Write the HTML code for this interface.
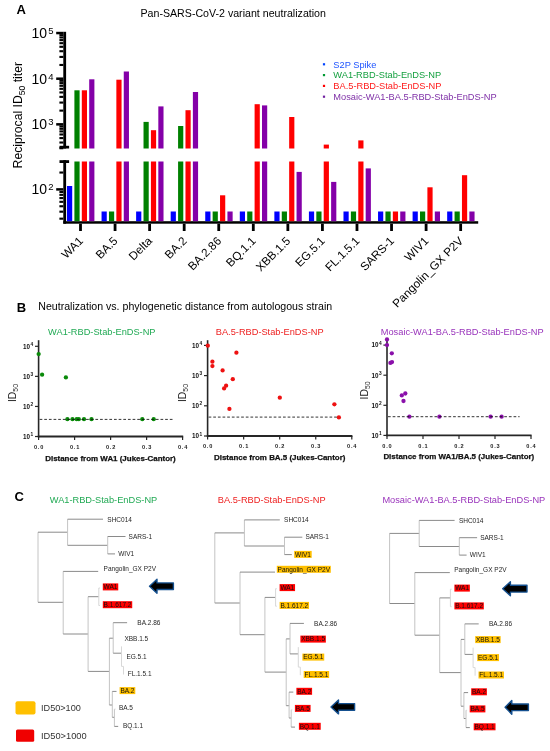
<!DOCTYPE html>
<html><head><meta charset="utf-8"><title>Figure</title>
<style>
html,body{margin:0;padding:0;background:#fff;}
body{width:550px;height:751px;overflow:hidden;}
svg{display:block;font-family:"Liberation Sans", sans-serif;will-change:transform;}
</style></head>
<body>
<svg width="550" height="751" viewBox="0 0 550 751">
<rect x="0" y="0" width="550" height="751" fill="#fff"/>
<text x="16.50" y="14.10" font-size="13" fill="#000" font-weight="bold" text-anchor="start" >A</text>
<text x="140.50" y="17.10" font-size="10.64" fill="#000" font-weight="normal" text-anchor="start" >Pan-SARS-CoV-2 variant neutralization</text>
<rect x="63.30" y="31.80" width="2.80" height="116.70" fill="#000" />
<rect x="63.30" y="160.20" width="2.80" height="63.50" fill="#000" />
<rect x="59.50" y="145.80" width="9.60" height="2.70" fill="#000" />
<rect x="59.50" y="160.20" width="9.60" height="2.80" fill="#000" />
<rect x="56.20" y="31.80" width="7.10" height="2.50" fill="#000" />
<rect x="56.20" y="77.45" width="7.10" height="2.50" fill="#000" />
<rect x="56.20" y="123.10" width="7.10" height="2.50" fill="#000" />
<rect x="56.20" y="188.15" width="7.10" height="2.50" fill="#000" />
<rect x="59.40" y="141.47" width="3.90" height="2.10" fill="#000" />
<rect x="59.40" y="137.04" width="3.90" height="2.10" fill="#000" />
<rect x="59.40" y="133.43" width="3.90" height="2.10" fill="#000" />
<rect x="59.40" y="130.37" width="3.90" height="2.10" fill="#000" />
<rect x="59.40" y="127.72" width="3.90" height="2.10" fill="#000" />
<rect x="59.40" y="125.39" width="3.90" height="2.10" fill="#000" />
<rect x="59.40" y="109.56" width="3.90" height="2.10" fill="#000" />
<rect x="59.40" y="101.52" width="3.90" height="2.10" fill="#000" />
<rect x="59.40" y="95.82" width="3.90" height="2.10" fill="#000" />
<rect x="59.40" y="91.39" width="3.90" height="2.10" fill="#000" />
<rect x="59.40" y="87.78" width="3.90" height="2.10" fill="#000" />
<rect x="59.40" y="84.72" width="3.90" height="2.10" fill="#000" />
<rect x="59.40" y="82.07" width="3.90" height="2.10" fill="#000" />
<rect x="59.40" y="79.74" width="3.90" height="2.10" fill="#000" />
<rect x="59.40" y="63.91" width="3.90" height="2.10" fill="#000" />
<rect x="59.40" y="55.87" width="3.90" height="2.10" fill="#000" />
<rect x="59.40" y="50.17" width="3.90" height="2.10" fill="#000" />
<rect x="59.40" y="45.74" width="3.90" height="2.10" fill="#000" />
<rect x="59.40" y="42.13" width="3.90" height="2.10" fill="#000" />
<rect x="59.40" y="39.07" width="3.90" height="2.10" fill="#000" />
<rect x="59.40" y="36.42" width="3.90" height="2.10" fill="#000" />
<rect x="59.40" y="34.09" width="3.90" height="2.10" fill="#000" />
<rect x="59.40" y="147.17" width="3.90" height="2.10" fill="#000" />
<rect x="59.40" y="217.63" width="3.90" height="2.10" fill="#000" />
<rect x="59.40" y="210.63" width="3.90" height="2.10" fill="#000" />
<rect x="59.40" y="205.21" width="3.90" height="2.10" fill="#000" />
<rect x="59.40" y="200.77" width="3.90" height="2.10" fill="#000" />
<rect x="59.40" y="197.02" width="3.90" height="2.10" fill="#000" />
<rect x="59.40" y="193.78" width="3.90" height="2.10" fill="#000" />
<rect x="59.40" y="190.91" width="3.90" height="2.10" fill="#000" />
<rect x="59.40" y="171.49" width="3.90" height="2.10" fill="#000" />
<text x="31.40" y="38.05" font-size="14" fill="#000" font-weight="normal" text-anchor="start" >10</text>
<text x="48.30" y="33.95" font-size="9.5" fill="#000" font-weight="normal" text-anchor="start" >5</text>
<text x="31.40" y="83.70" font-size="14" fill="#000" font-weight="normal" text-anchor="start" >10</text>
<text x="48.30" y="79.60" font-size="9.5" fill="#000" font-weight="normal" text-anchor="start" >4</text>
<text x="31.40" y="129.35" font-size="14" fill="#000" font-weight="normal" text-anchor="start" >10</text>
<text x="48.30" y="125.25" font-size="9.5" fill="#000" font-weight="normal" text-anchor="start" >3</text>
<text x="31.40" y="194.40" font-size="14" fill="#000" font-weight="normal" text-anchor="start" >10</text>
<text x="48.30" y="190.30" font-size="9.5" fill="#000" font-weight="normal" text-anchor="start" >2</text>
<text transform="translate(22.4,168.4) rotate(-90)" font-size="12.2" fill="#000">Reciprocal ID<tspan font-size="8.6" dy="2.4">50</tspan><tspan dy="-2.4"> titer</tspan></text>
<rect x="63.30" y="221.20" width="414.90" height="2.50" fill="#000" />
<rect x="67.00" y="186.00" width="5.20" height="35.20" fill="#0000ff" />
<rect x="74.40" y="161.50" width="5.20" height="59.70" fill="#008000" />
<rect x="74.40" y="90.30" width="5.20" height="58.20" fill="#008000" />
<rect x="81.80" y="161.50" width="5.20" height="59.70" fill="#ff0000" />
<rect x="81.80" y="90.30" width="5.20" height="58.20" fill="#ff0000" />
<rect x="89.20" y="161.50" width="5.20" height="59.70" fill="#8400a8" />
<rect x="89.20" y="79.30" width="5.20" height="69.20" fill="#8400a8" />
<rect x="79.10" y="223.70" width="2.80" height="7.30" fill="#000" />
<text transform="translate(83.80,241.70) rotate(-45)" font-size="11.7" text-anchor="end" fill="#000">WA1</text>
<rect x="101.56" y="211.50" width="5.20" height="9.70" fill="#0000ff" />
<rect x="108.96" y="211.50" width="5.20" height="9.70" fill="#008000" />
<rect x="116.36" y="161.50" width="5.20" height="59.70" fill="#ff0000" />
<rect x="116.36" y="79.70" width="5.20" height="68.80" fill="#ff0000" />
<rect x="123.76" y="161.50" width="5.20" height="59.70" fill="#8400a8" />
<rect x="123.76" y="71.50" width="5.20" height="77.00" fill="#8400a8" />
<rect x="113.66" y="223.70" width="2.80" height="7.30" fill="#000" />
<text transform="translate(118.36,241.70) rotate(-45)" font-size="11.7" text-anchor="end" fill="#000">BA.5</text>
<rect x="136.12" y="211.50" width="5.20" height="9.70" fill="#0000ff" />
<rect x="143.52" y="161.50" width="5.20" height="59.70" fill="#008000" />
<rect x="143.52" y="121.90" width="5.20" height="26.60" fill="#008000" />
<rect x="150.92" y="161.50" width="5.20" height="59.70" fill="#ff0000" />
<rect x="150.92" y="130.20" width="5.20" height="18.30" fill="#ff0000" />
<rect x="158.32" y="161.50" width="5.20" height="59.70" fill="#8400a8" />
<rect x="158.32" y="106.40" width="5.20" height="42.10" fill="#8400a8" />
<rect x="148.22" y="223.70" width="2.80" height="7.30" fill="#000" />
<text transform="translate(152.92,241.70) rotate(-45)" font-size="11.7" text-anchor="end" fill="#000">Delta</text>
<rect x="170.68" y="211.50" width="5.20" height="9.70" fill="#0000ff" />
<rect x="178.08" y="161.50" width="5.20" height="59.70" fill="#008000" />
<rect x="178.08" y="126.00" width="5.20" height="22.50" fill="#008000" />
<rect x="185.48" y="161.50" width="5.20" height="59.70" fill="#ff0000" />
<rect x="185.48" y="110.20" width="5.20" height="38.30" fill="#ff0000" />
<rect x="192.88" y="161.50" width="5.20" height="59.70" fill="#8400a8" />
<rect x="192.88" y="92.00" width="5.20" height="56.50" fill="#8400a8" />
<rect x="182.78" y="223.70" width="2.80" height="7.30" fill="#000" />
<text transform="translate(187.48,241.70) rotate(-45)" font-size="11.7" text-anchor="end" fill="#000">BA.2</text>
<rect x="205.24" y="211.50" width="5.20" height="9.70" fill="#0000ff" />
<rect x="212.64" y="211.50" width="5.20" height="9.70" fill="#008000" />
<rect x="220.04" y="195.30" width="5.20" height="25.90" fill="#ff0000" />
<rect x="227.44" y="211.50" width="5.20" height="9.70" fill="#8400a8" />
<rect x="217.34" y="223.70" width="2.80" height="7.30" fill="#000" />
<text transform="translate(222.04,241.70) rotate(-45)" font-size="11.7" text-anchor="end" fill="#000">BA.2.86</text>
<rect x="239.80" y="211.50" width="5.20" height="9.70" fill="#0000ff" />
<rect x="247.20" y="211.50" width="5.20" height="9.70" fill="#008000" />
<rect x="254.60" y="161.50" width="5.20" height="59.70" fill="#ff0000" />
<rect x="254.60" y="104.20" width="5.20" height="44.30" fill="#ff0000" />
<rect x="262.00" y="161.50" width="5.20" height="59.70" fill="#8400a8" />
<rect x="262.00" y="105.40" width="5.20" height="43.10" fill="#8400a8" />
<rect x="251.90" y="223.70" width="2.80" height="7.30" fill="#000" />
<text transform="translate(256.60,241.70) rotate(-45)" font-size="11.7" text-anchor="end" fill="#000">BQ.1.1</text>
<rect x="274.36" y="211.50" width="5.20" height="9.70" fill="#0000ff" />
<rect x="281.76" y="211.50" width="5.20" height="9.70" fill="#008000" />
<rect x="289.16" y="161.50" width="5.20" height="59.70" fill="#ff0000" />
<rect x="289.16" y="117.00" width="5.20" height="31.50" fill="#ff0000" />
<rect x="296.56" y="171.90" width="5.20" height="49.30" fill="#8400a8" />
<rect x="286.46" y="223.70" width="2.80" height="7.30" fill="#000" />
<text transform="translate(291.16,241.70) rotate(-45)" font-size="11.7" text-anchor="end" fill="#000">XBB.1.5</text>
<rect x="308.92" y="211.50" width="5.20" height="9.70" fill="#0000ff" />
<rect x="316.32" y="211.50" width="5.20" height="9.70" fill="#008000" />
<rect x="323.72" y="161.50" width="5.20" height="59.70" fill="#ff0000" />
<rect x="323.72" y="144.60" width="5.20" height="3.90" fill="#ff0000" />
<rect x="331.12" y="181.90" width="5.20" height="39.30" fill="#8400a8" />
<rect x="321.02" y="223.70" width="2.80" height="7.30" fill="#000" />
<text transform="translate(325.72,241.70) rotate(-45)" font-size="11.7" text-anchor="end" fill="#000">EG.5.1</text>
<rect x="343.48" y="211.50" width="5.20" height="9.70" fill="#0000ff" />
<rect x="350.88" y="211.50" width="5.20" height="9.70" fill="#008000" />
<rect x="358.28" y="161.50" width="5.20" height="59.70" fill="#ff0000" />
<rect x="358.28" y="140.40" width="5.20" height="8.10" fill="#ff0000" />
<rect x="365.68" y="168.40" width="5.20" height="52.80" fill="#8400a8" />
<rect x="355.58" y="223.70" width="2.80" height="7.30" fill="#000" />
<text transform="translate(360.28,241.70) rotate(-45)" font-size="11.7" text-anchor="end" fill="#000">FL.1.5.1</text>
<rect x="378.04" y="211.50" width="5.20" height="9.70" fill="#0000ff" />
<rect x="385.44" y="211.50" width="5.20" height="9.70" fill="#008000" />
<rect x="392.84" y="211.50" width="5.20" height="9.70" fill="#ff0000" />
<rect x="400.24" y="211.50" width="5.20" height="9.70" fill="#8400a8" />
<rect x="390.14" y="223.70" width="2.80" height="7.30" fill="#000" />
<text transform="translate(394.84,241.70) rotate(-45)" font-size="11.7" text-anchor="end" fill="#000">SARS-1</text>
<rect x="412.60" y="211.50" width="5.20" height="9.70" fill="#0000ff" />
<rect x="420.00" y="211.50" width="5.20" height="9.70" fill="#008000" />
<rect x="427.40" y="187.30" width="5.20" height="33.90" fill="#ff0000" />
<rect x="434.80" y="211.50" width="5.20" height="9.70" fill="#8400a8" />
<rect x="424.70" y="223.70" width="2.80" height="7.30" fill="#000" />
<text transform="translate(429.40,241.70) rotate(-45)" font-size="11.7" text-anchor="end" fill="#000">WIV1</text>
<rect x="447.16" y="211.50" width="5.20" height="9.70" fill="#0000ff" />
<rect x="454.56" y="211.50" width="5.20" height="9.70" fill="#008000" />
<rect x="461.96" y="175.20" width="5.20" height="46.00" fill="#ff0000" />
<rect x="469.36" y="211.50" width="5.20" height="9.70" fill="#8400a8" />
<rect x="459.26" y="223.70" width="2.80" height="7.30" fill="#000" />
<text transform="translate(463.96,241.70) rotate(-45)" font-size="11.7" text-anchor="end" fill="#000">Pangolin_GX P2V</text>
<rect x="322.90" y="63.20" width="2.20" height="2.20" fill="#0044ff" />
<text x="333.30" y="67.50" font-size="9.28" fill="#1f55ff" font-weight="normal" text-anchor="start" >S2P Spike</text>
<rect x="322.90" y="74.00" width="2.20" height="2.20" fill="#009a33" />
<text x="333.30" y="78.30" font-size="9.28" fill="#15a040" font-weight="normal" text-anchor="start" >WA1-RBD-Stab-EnDS-NP</text>
<rect x="322.90" y="84.80" width="2.20" height="2.20" fill="#ff0000" />
<text x="333.30" y="89.10" font-size="9.28" fill="#ff1a1a" font-weight="normal" text-anchor="start" >BA.5-RBD-Stab-EnDS-NP</text>
<rect x="322.90" y="95.60" width="2.20" height="2.20" fill="#7020a0" />
<text x="333.30" y="99.90" font-size="9.28" fill="#8032a8" font-weight="normal" text-anchor="start" >Mosaic-WA1-BA.5-RBD-Stab-EnDS-NP</text>
<text x="16.80" y="311.60" font-size="13" fill="#000" font-weight="bold" text-anchor="start" >B</text>
<text x="38.30" y="309.90" font-size="10.6" fill="#000" font-weight="normal" text-anchor="start" >Neutralization vs. phylogenetic distance from autologous strain</text>
<line x1="38.60" y1="340.20" x2="38.60" y2="437.31" stroke="#262626" stroke-width="1.6" />
<line x1="37.80" y1="436.51" x2="183.20" y2="436.51" stroke="#262626" stroke-width="1.9" />
<line x1="35.00" y1="346.30" x2="38.60" y2="346.30" stroke="#262626" stroke-width="1.2" />
<text x="23.00" y="348.60" font-size="6.3" fill="#111" font-weight="bold" text-anchor="start" >10</text>
<text x="30.50" y="345.90" font-size="4.8" fill="#111" font-weight="bold" text-anchor="start" >4</text>
<line x1="35.00" y1="376.37" x2="38.60" y2="376.37" stroke="#262626" stroke-width="1.2" />
<text x="23.00" y="378.67" font-size="6.3" fill="#111" font-weight="bold" text-anchor="start" >10</text>
<text x="30.50" y="375.97" font-size="4.8" fill="#111" font-weight="bold" text-anchor="start" >3</text>
<line x1="35.00" y1="406.44" x2="38.60" y2="406.44" stroke="#262626" stroke-width="1.2" />
<text x="23.00" y="408.74" font-size="6.3" fill="#111" font-weight="bold" text-anchor="start" >10</text>
<text x="30.50" y="406.04" font-size="4.8" fill="#111" font-weight="bold" text-anchor="start" >2</text>
<line x1="35.00" y1="436.51" x2="38.60" y2="436.51" stroke="#262626" stroke-width="1.2" />
<text x="23.00" y="438.81" font-size="6.3" fill="#111" font-weight="bold" text-anchor="start" >10</text>
<text x="30.50" y="436.11" font-size="4.8" fill="#111" font-weight="bold" text-anchor="start" >1</text>
<line x1="38.60" y1="436.51" x2="38.60" y2="440.11" stroke="#262626" stroke-width="1.2" />
<text x="39.00" y="448.61" font-size="5.6" fill="#222" font-weight="bold" text-anchor="middle" letter-spacing="0.8">0.0</text>
<line x1="74.60" y1="436.51" x2="74.60" y2="440.11" stroke="#262626" stroke-width="1.2" />
<text x="75.00" y="448.61" font-size="5.6" fill="#222" font-weight="bold" text-anchor="middle" letter-spacing="0.8">0.1</text>
<line x1="110.60" y1="436.51" x2="110.60" y2="440.11" stroke="#262626" stroke-width="1.2" />
<text x="111.00" y="448.61" font-size="5.6" fill="#222" font-weight="bold" text-anchor="middle" letter-spacing="0.8">0.2</text>
<line x1="146.60" y1="436.51" x2="146.60" y2="440.11" stroke="#262626" stroke-width="1.2" />
<text x="147.00" y="448.61" font-size="5.6" fill="#222" font-weight="bold" text-anchor="middle" letter-spacing="0.8">0.3</text>
<line x1="182.60" y1="436.51" x2="182.60" y2="440.11" stroke="#262626" stroke-width="1.2" />
<text x="183.00" y="448.61" font-size="5.6" fill="#222" font-weight="bold" text-anchor="middle" letter-spacing="0.8">0.4</text>
<text transform="translate(16.20,402.00) rotate(-90)" font-size="10.3" fill="#222">ID<tspan font-size="6.9" dy="1.9">50</tspan></text>
<text x="48.10" y="335.30" font-size="9.24" fill="#22aa55" font-weight="normal" text-anchor="start" >WA1-RBD-Stab-EnDS-NP</text>
<text x="45.20" y="460.90" font-size="7.95" fill="#111" font-weight="bold" text-anchor="start" stroke="#111" stroke-width="0.25">Distance from WA1 (Jukes-Cantor)</text>
<circle cx="38.65" cy="354.10" r="2.15" fill="#0a8a0a"/>
<circle cx="42.10" cy="374.70" r="2.15" fill="#0a8a0a"/>
<circle cx="65.90" cy="377.40" r="2.15" fill="#0a8a0a"/>
<circle cx="67.40" cy="419.20" r="2.15" fill="#0a8a0a"/>
<circle cx="72.50" cy="419.20" r="2.15" fill="#0a8a0a"/>
<circle cx="76.70" cy="419.20" r="2.15" fill="#0a8a0a"/>
<circle cx="78.80" cy="419.20" r="2.15" fill="#0a8a0a"/>
<circle cx="84.00" cy="419.20" r="2.15" fill="#0a8a0a"/>
<circle cx="91.50" cy="419.20" r="2.15" fill="#0a8a0a"/>
<circle cx="142.30" cy="419.20" r="2.15" fill="#0a8a0a"/>
<circle cx="153.70" cy="419.20" r="2.15" fill="#0a8a0a"/>
<line x1="39.60" y1="419.40" x2="172.70" y2="419.40" stroke="#111" stroke-width="1.0" stroke-dasharray="2.7,1.95" stroke-opacity="0.85"/>
<line x1="207.60" y1="340.20" x2="207.60" y2="436.80" stroke="#262626" stroke-width="1.6" />
<line x1="206.80" y1="436.00" x2="352.40" y2="436.00" stroke="#262626" stroke-width="1.9" />
<line x1="204.00" y1="345.40" x2="207.60" y2="345.40" stroke="#262626" stroke-width="1.2" />
<text x="192.00" y="347.70" font-size="6.3" fill="#111" font-weight="bold" text-anchor="start" >10</text>
<text x="199.50" y="345.00" font-size="4.8" fill="#111" font-weight="bold" text-anchor="start" >4</text>
<line x1="204.00" y1="375.60" x2="207.60" y2="375.60" stroke="#262626" stroke-width="1.2" />
<text x="192.00" y="377.90" font-size="6.3" fill="#111" font-weight="bold" text-anchor="start" >10</text>
<text x="199.50" y="375.20" font-size="4.8" fill="#111" font-weight="bold" text-anchor="start" >3</text>
<line x1="204.00" y1="405.80" x2="207.60" y2="405.80" stroke="#262626" stroke-width="1.2" />
<text x="192.00" y="408.10" font-size="6.3" fill="#111" font-weight="bold" text-anchor="start" >10</text>
<text x="199.50" y="405.40" font-size="4.8" fill="#111" font-weight="bold" text-anchor="start" >2</text>
<line x1="204.00" y1="436.00" x2="207.60" y2="436.00" stroke="#262626" stroke-width="1.2" />
<text x="192.00" y="438.30" font-size="6.3" fill="#111" font-weight="bold" text-anchor="start" >10</text>
<text x="199.50" y="435.60" font-size="4.8" fill="#111" font-weight="bold" text-anchor="start" >1</text>
<line x1="207.60" y1="436.00" x2="207.60" y2="439.60" stroke="#262626" stroke-width="1.2" />
<text x="208.00" y="448.10" font-size="5.6" fill="#222" font-weight="bold" text-anchor="middle" letter-spacing="0.8">0.0</text>
<line x1="243.65" y1="436.00" x2="243.65" y2="439.60" stroke="#262626" stroke-width="1.2" />
<text x="244.05" y="448.10" font-size="5.6" fill="#222" font-weight="bold" text-anchor="middle" letter-spacing="0.8">0.1</text>
<line x1="279.70" y1="436.00" x2="279.70" y2="439.60" stroke="#262626" stroke-width="1.2" />
<text x="280.10" y="448.10" font-size="5.6" fill="#222" font-weight="bold" text-anchor="middle" letter-spacing="0.8">0.2</text>
<line x1="315.75" y1="436.00" x2="315.75" y2="439.60" stroke="#262626" stroke-width="1.2" />
<text x="316.15" y="448.10" font-size="5.6" fill="#222" font-weight="bold" text-anchor="middle" letter-spacing="0.8">0.3</text>
<line x1="351.80" y1="436.00" x2="351.80" y2="439.60" stroke="#262626" stroke-width="1.2" />
<text x="352.20" y="448.10" font-size="5.6" fill="#222" font-weight="bold" text-anchor="middle" letter-spacing="0.8">0.4</text>
<text transform="translate(185.80,402.00) rotate(-90)" font-size="10.3" fill="#222">ID<tspan font-size="6.9" dy="1.9">50</tspan></text>
<text x="215.80" y="335.30" font-size="9.24" fill="#ee2222" font-weight="normal" text-anchor="start" >BA.5-RBD-Stab-EnDS-NP</text>
<text x="214.00" y="460.00" font-size="7.95" fill="#111" font-weight="bold" text-anchor="start" stroke="#111" stroke-width="0.25">Distance from BA.5 (Jukes-Cantor)</text>
<circle cx="207.80" cy="345.70" r="2.15" fill="#ee1111"/>
<circle cx="236.40" cy="352.70" r="2.15" fill="#ee1111"/>
<circle cx="212.40" cy="361.70" r="2.15" fill="#ee1111"/>
<circle cx="212.40" cy="366.10" r="2.15" fill="#ee1111"/>
<circle cx="222.60" cy="370.40" r="2.15" fill="#ee1111"/>
<circle cx="232.80" cy="379.20" r="2.15" fill="#ee1111"/>
<circle cx="226.10" cy="385.70" r="2.15" fill="#ee1111"/>
<circle cx="224.10" cy="388.40" r="2.15" fill="#ee1111"/>
<circle cx="279.80" cy="397.70" r="2.15" fill="#ee1111"/>
<circle cx="334.40" cy="404.30" r="2.15" fill="#ee1111"/>
<circle cx="229.40" cy="408.90" r="2.15" fill="#ee1111"/>
<circle cx="338.90" cy="417.40" r="2.15" fill="#ee1111"/>
<line x1="208.60" y1="417.10" x2="338.20" y2="417.10" stroke="#111" stroke-width="1.0" stroke-dasharray="2.7,1.95" stroke-opacity="0.85"/>
<line x1="387.00" y1="340.20" x2="387.00" y2="436.20" stroke="#262626" stroke-width="1.6" />
<line x1="386.20" y1="435.40" x2="531.60" y2="435.40" stroke="#262626" stroke-width="1.9" />
<line x1="383.40" y1="345.10" x2="387.00" y2="345.10" stroke="#262626" stroke-width="1.2" />
<text x="371.40" y="347.40" font-size="6.3" fill="#111" font-weight="bold" text-anchor="start" >10</text>
<text x="378.90" y="344.70" font-size="4.8" fill="#111" font-weight="bold" text-anchor="start" >4</text>
<line x1="383.40" y1="375.20" x2="387.00" y2="375.20" stroke="#262626" stroke-width="1.2" />
<text x="371.40" y="377.50" font-size="6.3" fill="#111" font-weight="bold" text-anchor="start" >10</text>
<text x="378.90" y="374.80" font-size="4.8" fill="#111" font-weight="bold" text-anchor="start" >3</text>
<line x1="383.40" y1="405.30" x2="387.00" y2="405.30" stroke="#262626" stroke-width="1.2" />
<text x="371.40" y="407.60" font-size="6.3" fill="#111" font-weight="bold" text-anchor="start" >10</text>
<text x="378.90" y="404.90" font-size="4.8" fill="#111" font-weight="bold" text-anchor="start" >2</text>
<line x1="383.40" y1="435.40" x2="387.00" y2="435.40" stroke="#262626" stroke-width="1.2" />
<text x="371.40" y="437.70" font-size="6.3" fill="#111" font-weight="bold" text-anchor="start" >10</text>
<text x="378.90" y="435.00" font-size="4.8" fill="#111" font-weight="bold" text-anchor="start" >1</text>
<line x1="387.00" y1="435.40" x2="387.00" y2="439.00" stroke="#262626" stroke-width="1.2" />
<text x="387.40" y="447.50" font-size="5.6" fill="#222" font-weight="bold" text-anchor="middle" letter-spacing="0.8">0.0</text>
<line x1="423.00" y1="435.40" x2="423.00" y2="439.00" stroke="#262626" stroke-width="1.2" />
<text x="423.40" y="447.50" font-size="5.6" fill="#222" font-weight="bold" text-anchor="middle" letter-spacing="0.8">0.1</text>
<line x1="459.00" y1="435.40" x2="459.00" y2="439.00" stroke="#262626" stroke-width="1.2" />
<text x="459.40" y="447.50" font-size="5.6" fill="#222" font-weight="bold" text-anchor="middle" letter-spacing="0.8">0.2</text>
<line x1="495.00" y1="435.40" x2="495.00" y2="439.00" stroke="#262626" stroke-width="1.2" />
<text x="495.40" y="447.50" font-size="5.6" fill="#222" font-weight="bold" text-anchor="middle" letter-spacing="0.8">0.3</text>
<line x1="531.00" y1="435.40" x2="531.00" y2="439.00" stroke="#262626" stroke-width="1.2" />
<text x="531.40" y="447.50" font-size="5.6" fill="#222" font-weight="bold" text-anchor="middle" letter-spacing="0.8">0.4</text>
<text transform="translate(368.00,399.40) rotate(-90)" font-size="10.3" fill="#222">ID<tspan font-size="6.9" dy="1.9">50</tspan></text>
<text x="380.80" y="335.30" font-size="9.24" fill="#9933bb" font-weight="normal" text-anchor="start" >Mosaic-WA1-BA.5-RBD-Stab-EnDS-NP</text>
<text x="383.40" y="459.10" font-size="7.95" fill="#111" font-weight="bold" text-anchor="start" stroke="#111" stroke-width="0.25">Distance from WA1/BA.5 (Jukes-Cantor)</text>
<circle cx="387.00" cy="339.50" r="2.15" fill="#8a10aa"/>
<circle cx="387.00" cy="345.10" r="2.15" fill="#8a10aa"/>
<circle cx="391.80" cy="353.30" r="2.15" fill="#8a10aa"/>
<circle cx="390.40" cy="362.90" r="2.15" fill="#8a10aa"/>
<circle cx="392.00" cy="362.10" r="2.15" fill="#8a10aa"/>
<circle cx="405.30" cy="393.50" r="2.15" fill="#8a10aa"/>
<circle cx="401.80" cy="395.40" r="2.15" fill="#8a10aa"/>
<circle cx="403.50" cy="401.00" r="2.15" fill="#8a10aa"/>
<circle cx="409.40" cy="416.70" r="2.15" fill="#8a10aa"/>
<circle cx="439.40" cy="416.70" r="2.15" fill="#8a10aa"/>
<circle cx="490.60" cy="416.70" r="2.15" fill="#8a10aa"/>
<circle cx="501.60" cy="416.70" r="2.15" fill="#8a10aa"/>
<line x1="388.00" y1="416.70" x2="519.60" y2="416.70" stroke="#111" stroke-width="1.0" stroke-dasharray="2.7,1.95" stroke-opacity="0.85"/>
<text x="14.60" y="501.40" font-size="13" fill="#000" font-weight="bold" text-anchor="start" >C</text>
<text x="49.80" y="502.90" font-size="9.24" fill="#22aa55" font-weight="normal" text-anchor="start" >WA1-RBD-Stab-EnDS-NP</text>
<text x="217.80" y="502.90" font-size="9.24" fill="#ee2222" font-weight="normal" text-anchor="start" >BA.5-RBD-Stab-EnDS-NP</text>
<text x="382.40" y="502.90" font-size="9.24" fill="#9933bb" font-weight="normal" text-anchor="start" >Mosaic-WA1-BA.5-RBD-Stab-EnDS-NP</text>
<line x1="38.00" y1="532.20" x2="38.00" y2="602.30" stroke="#c4c4c4" stroke-width="1.0" />
<line x1="38.00" y1="532.20" x2="67.60" y2="532.20" stroke="#8a8a8a" stroke-width="1.0" />
<line x1="67.60" y1="519.20" x2="67.60" y2="545.30" stroke="#c4c4c4" stroke-width="1.0" />
<line x1="67.60" y1="519.20" x2="103.00" y2="519.20" stroke="#8a8a8a" stroke-width="1.0" />
<line x1="67.60" y1="545.30" x2="107.70" y2="545.30" stroke="#8a8a8a" stroke-width="1.0" />
<line x1="107.70" y1="536.50" x2="107.70" y2="553.90" stroke="#c4c4c4" stroke-width="1.0" />
<line x1="107.70" y1="536.50" x2="125.50" y2="536.50" stroke="#8a8a8a" stroke-width="1.0" />
<line x1="107.70" y1="553.90" x2="115.00" y2="553.90" stroke="#8a8a8a" stroke-width="1.0" />
<line x1="38.00" y1="602.30" x2="63.20" y2="602.30" stroke="#8a8a8a" stroke-width="1.0" />
<line x1="63.20" y1="571.40" x2="63.20" y2="634.00" stroke="#c4c4c4" stroke-width="1.0" />
<line x1="63.20" y1="571.40" x2="98.20" y2="571.40" stroke="#8a8a8a" stroke-width="1.0" />
<line x1="63.20" y1="634.00" x2="88.10" y2="634.00" stroke="#8a8a8a" stroke-width="1.0" />
<line x1="88.10" y1="596.70" x2="88.10" y2="671.40" stroke="#c4c4c4" stroke-width="1.0" />
<line x1="88.10" y1="596.70" x2="98.80" y2="596.70" stroke="#8a8a8a" stroke-width="1.0" />
<line x1="98.80" y1="588.00" x2="98.80" y2="605.50" stroke="#d8d8d8" stroke-width="1.0" />
<line x1="98.80" y1="588.00" x2="100.00" y2="588.00" stroke="#d8d8d8" stroke-width="1.0" />
<line x1="98.80" y1="605.50" x2="100.00" y2="605.50" stroke="#d8d8d8" stroke-width="1.0" />
<line x1="88.10" y1="671.40" x2="109.40" y2="671.40" stroke="#8a8a8a" stroke-width="1.0" />
<line x1="109.40" y1="638.20" x2="109.40" y2="705.00" stroke="#c4c4c4" stroke-width="1.0" />
<line x1="109.40" y1="638.20" x2="113.20" y2="638.20" stroke="#8a8a8a" stroke-width="1.0" />
<line x1="113.20" y1="622.70" x2="113.20" y2="653.20" stroke="#c4c4c4" stroke-width="1.0" />
<line x1="113.20" y1="622.70" x2="127.10" y2="622.70" stroke="#8a8a8a" stroke-width="1.0" />
<line x1="113.20" y1="653.20" x2="121.40" y2="653.20" stroke="#8a8a8a" stroke-width="1.0" />
<line x1="121.50" y1="646.40" x2="121.50" y2="666.40" stroke="#d8d8d8" stroke-width="1.0" />
<line x1="121.50" y1="666.40" x2="123.50" y2="666.40" stroke="#d8d8d8" stroke-width="1.0" />
<line x1="123.50" y1="666.40" x2="123.50" y2="674.50" stroke="#d8d8d8" stroke-width="1.0" />
<line x1="109.40" y1="705.00" x2="112.30" y2="705.00" stroke="#8a8a8a" stroke-width="1.0" />
<line x1="112.30" y1="691.40" x2="112.30" y2="717.30" stroke="#c4c4c4" stroke-width="1.0" />
<line x1="112.30" y1="691.40" x2="116.50" y2="691.40" stroke="#8a8a8a" stroke-width="1.0" />
<line x1="112.30" y1="717.30" x2="114.40" y2="717.30" stroke="#8a8a8a" stroke-width="1.0" />
<line x1="114.40" y1="709.10" x2="114.40" y2="726.40" stroke="#c4c4c4" stroke-width="1.0" />
<line x1="114.40" y1="709.10" x2="115.50" y2="709.10" stroke="#d8d8d8" stroke-width="1.0" />
<line x1="114.40" y1="726.40" x2="118.20" y2="726.40" stroke="#8a8a8a" stroke-width="1.0" />
<text x="107.30" y="521.55" font-size="6.5" fill="#262626" font-weight="normal" text-anchor="start" >SHC014</text>
<text x="128.60" y="538.65" font-size="6.5" fill="#262626" font-weight="normal" text-anchor="start" >SARS-1</text>
<text x="118.20" y="556.05" font-size="6.5" fill="#262626" font-weight="normal" text-anchor="start" >WIV1</text>
<text x="103.60" y="570.95" font-size="6.5" fill="#262626" font-weight="normal" text-anchor="start" >Pangolin_GX P2V</text>
<rect x="102.80" y="583.40" width="15.45" height="7.00" fill="#ff0000" />
<text x="103.60" y="589.25" font-size="6.5" fill="#111" font-weight="normal" text-anchor="start" >WA1</text>
<rect x="102.80" y="601.20" width="29.43" height="7.00" fill="#ff0000" />
<text x="103.60" y="607.05" font-size="6.5" fill="#111" font-weight="normal" text-anchor="start" >B.1.617.2</text>
<text x="137.30" y="625.05" font-size="6.5" fill="#262626" font-weight="normal" text-anchor="start" >BA.2.86</text>
<text x="124.40" y="640.75" font-size="6.5" fill="#262626" font-weight="normal" text-anchor="start" >XBB.1.5</text>
<text x="126.40" y="658.75" font-size="6.5" fill="#262626" font-weight="normal" text-anchor="start" >EG.5.1</text>
<text x="127.70" y="676.15" font-size="6.5" fill="#262626" font-weight="normal" text-anchor="start" >FL.1.5.1</text>
<rect x="119.60" y="687.10" width="15.69" height="7.00" fill="#ffc000" />
<text x="120.40" y="692.95" font-size="6.5" fill="#111" font-weight="normal" text-anchor="start" >BA.2</text>
<text x="118.90" y="710.05" font-size="6.5" fill="#262626" font-weight="normal" text-anchor="start" >BA.5</text>
<text x="122.90" y="727.95" font-size="6.5" fill="#262626" font-weight="normal" text-anchor="start" >BQ.1.1</text>
<line x1="214.80" y1="532.90" x2="214.80" y2="603.00" stroke="#c4c4c4" stroke-width="1.0" />
<line x1="214.80" y1="532.90" x2="244.40" y2="532.90" stroke="#8a8a8a" stroke-width="1.0" />
<line x1="244.40" y1="519.90" x2="244.40" y2="546.00" stroke="#c4c4c4" stroke-width="1.0" />
<line x1="244.40" y1="519.90" x2="279.80" y2="519.90" stroke="#8a8a8a" stroke-width="1.0" />
<line x1="244.40" y1="546.00" x2="284.50" y2="546.00" stroke="#8a8a8a" stroke-width="1.0" />
<line x1="284.50" y1="537.20" x2="284.50" y2="554.60" stroke="#c4c4c4" stroke-width="1.0" />
<line x1="284.50" y1="537.20" x2="302.30" y2="537.20" stroke="#8a8a8a" stroke-width="1.0" />
<line x1="284.50" y1="554.60" x2="291.80" y2="554.60" stroke="#8a8a8a" stroke-width="1.0" />
<line x1="214.80" y1="603.00" x2="240.00" y2="603.00" stroke="#8a8a8a" stroke-width="1.0" />
<line x1="240.00" y1="572.10" x2="240.00" y2="634.70" stroke="#c4c4c4" stroke-width="1.0" />
<line x1="240.00" y1="572.10" x2="275.00" y2="572.10" stroke="#8a8a8a" stroke-width="1.0" />
<line x1="240.00" y1="634.70" x2="264.90" y2="634.70" stroke="#8a8a8a" stroke-width="1.0" />
<line x1="264.90" y1="597.40" x2="264.90" y2="672.10" stroke="#c4c4c4" stroke-width="1.0" />
<line x1="264.90" y1="597.40" x2="275.60" y2="597.40" stroke="#8a8a8a" stroke-width="1.0" />
<line x1="275.60" y1="588.70" x2="275.60" y2="606.20" stroke="#d8d8d8" stroke-width="1.0" />
<line x1="275.60" y1="588.70" x2="276.80" y2="588.70" stroke="#d8d8d8" stroke-width="1.0" />
<line x1="275.60" y1="606.20" x2="276.80" y2="606.20" stroke="#d8d8d8" stroke-width="1.0" />
<line x1="264.90" y1="672.10" x2="286.20" y2="672.10" stroke="#8a8a8a" stroke-width="1.0" />
<line x1="286.20" y1="638.90" x2="286.20" y2="705.70" stroke="#c4c4c4" stroke-width="1.0" />
<line x1="286.20" y1="638.90" x2="290.00" y2="638.90" stroke="#8a8a8a" stroke-width="1.0" />
<line x1="290.00" y1="623.40" x2="290.00" y2="653.90" stroke="#c4c4c4" stroke-width="1.0" />
<line x1="290.00" y1="623.40" x2="303.90" y2="623.40" stroke="#8a8a8a" stroke-width="1.0" />
<line x1="290.00" y1="653.90" x2="298.20" y2="653.90" stroke="#8a8a8a" stroke-width="1.0" />
<line x1="298.30" y1="647.10" x2="298.30" y2="667.10" stroke="#d8d8d8" stroke-width="1.0" />
<line x1="298.30" y1="667.10" x2="300.30" y2="667.10" stroke="#d8d8d8" stroke-width="1.0" />
<line x1="300.30" y1="667.10" x2="300.30" y2="675.20" stroke="#d8d8d8" stroke-width="1.0" />
<line x1="286.20" y1="705.70" x2="289.10" y2="705.70" stroke="#8a8a8a" stroke-width="1.0" />
<line x1="289.10" y1="692.10" x2="289.10" y2="718.00" stroke="#c4c4c4" stroke-width="1.0" />
<line x1="289.10" y1="692.10" x2="293.30" y2="692.10" stroke="#8a8a8a" stroke-width="1.0" />
<line x1="289.10" y1="718.00" x2="291.20" y2="718.00" stroke="#8a8a8a" stroke-width="1.0" />
<line x1="291.20" y1="709.80" x2="291.20" y2="727.10" stroke="#c4c4c4" stroke-width="1.0" />
<line x1="291.20" y1="709.80" x2="292.30" y2="709.80" stroke="#d8d8d8" stroke-width="1.0" />
<line x1="291.20" y1="727.10" x2="295.00" y2="727.10" stroke="#8a8a8a" stroke-width="1.0" />
<text x="284.10" y="522.25" font-size="6.5" fill="#262626" font-weight="normal" text-anchor="start" >SHC014</text>
<text x="305.40" y="539.35" font-size="6.5" fill="#262626" font-weight="normal" text-anchor="start" >SARS-1</text>
<rect x="294.20" y="550.90" width="17.49" height="7.00" fill="#ffc000" />
<text x="295.00" y="556.75" font-size="6.5" fill="#111" font-weight="normal" text-anchor="start" >WIV1</text>
<rect x="276.80" y="565.80" width="54.00" height="7.00" fill="#ffc000" />
<text x="277.60" y="571.65" font-size="6.5" fill="#111" font-weight="normal" text-anchor="start" >Pangolin_GX P2V</text>
<rect x="279.60" y="584.10" width="15.45" height="7.00" fill="#ff0000" />
<text x="280.40" y="589.95" font-size="6.5" fill="#111" font-weight="normal" text-anchor="start" >WA1</text>
<rect x="279.60" y="601.90" width="29.43" height="7.00" fill="#ffc000" />
<text x="280.40" y="607.75" font-size="6.5" fill="#111" font-weight="normal" text-anchor="start" >B.1.617.2</text>
<text x="314.10" y="625.75" font-size="6.5" fill="#262626" font-weight="normal" text-anchor="start" >BA.2.86</text>
<rect x="300.40" y="635.60" width="25.45" height="7.00" fill="#ff0000" />
<text x="301.20" y="641.45" font-size="6.5" fill="#111" font-weight="normal" text-anchor="start" >XBB.1.5</text>
<rect x="302.40" y="653.60" width="21.83" height="7.00" fill="#ffc000" />
<text x="303.20" y="659.45" font-size="6.5" fill="#111" font-weight="normal" text-anchor="start" >EG.5.1</text>
<rect x="303.70" y="671.00" width="25.45" height="7.00" fill="#ffc000" />
<text x="304.50" y="676.85" font-size="6.5" fill="#111" font-weight="normal" text-anchor="start" >FL.1.5.1</text>
<rect x="296.40" y="687.80" width="15.69" height="7.00" fill="#ff0000" />
<text x="297.20" y="693.65" font-size="6.5" fill="#111" font-weight="normal" text-anchor="start" >BA.2</text>
<rect x="294.90" y="704.90" width="15.69" height="7.00" fill="#ff0000" />
<text x="295.70" y="710.75" font-size="6.5" fill="#111" font-weight="normal" text-anchor="start" >BA.5</text>
<rect x="298.90" y="722.80" width="21.83" height="7.00" fill="#ff0000" />
<text x="299.70" y="728.65" font-size="6.5" fill="#111" font-weight="normal" text-anchor="start" >BQ.1.1</text>
<line x1="389.60" y1="533.40" x2="389.60" y2="603.50" stroke="#c4c4c4" stroke-width="1.0" />
<line x1="389.60" y1="533.40" x2="419.20" y2="533.40" stroke="#8a8a8a" stroke-width="1.0" />
<line x1="419.20" y1="520.40" x2="419.20" y2="546.50" stroke="#c4c4c4" stroke-width="1.0" />
<line x1="419.20" y1="520.40" x2="454.60" y2="520.40" stroke="#8a8a8a" stroke-width="1.0" />
<line x1="419.20" y1="546.50" x2="459.30" y2="546.50" stroke="#8a8a8a" stroke-width="1.0" />
<line x1="459.30" y1="537.70" x2="459.30" y2="555.10" stroke="#c4c4c4" stroke-width="1.0" />
<line x1="459.30" y1="537.70" x2="477.10" y2="537.70" stroke="#8a8a8a" stroke-width="1.0" />
<line x1="459.30" y1="555.10" x2="466.60" y2="555.10" stroke="#8a8a8a" stroke-width="1.0" />
<line x1="389.60" y1="603.50" x2="414.80" y2="603.50" stroke="#8a8a8a" stroke-width="1.0" />
<line x1="414.80" y1="572.60" x2="414.80" y2="635.20" stroke="#c4c4c4" stroke-width="1.0" />
<line x1="414.80" y1="572.60" x2="449.80" y2="572.60" stroke="#8a8a8a" stroke-width="1.0" />
<line x1="414.80" y1="635.20" x2="439.70" y2="635.20" stroke="#8a8a8a" stroke-width="1.0" />
<line x1="439.70" y1="597.90" x2="439.70" y2="672.60" stroke="#c4c4c4" stroke-width="1.0" />
<line x1="439.70" y1="597.90" x2="450.40" y2="597.90" stroke="#8a8a8a" stroke-width="1.0" />
<line x1="450.40" y1="589.20" x2="450.40" y2="606.70" stroke="#d8d8d8" stroke-width="1.0" />
<line x1="450.40" y1="589.20" x2="451.60" y2="589.20" stroke="#d8d8d8" stroke-width="1.0" />
<line x1="450.40" y1="606.70" x2="451.60" y2="606.70" stroke="#d8d8d8" stroke-width="1.0" />
<line x1="439.70" y1="672.60" x2="461.00" y2="672.60" stroke="#8a8a8a" stroke-width="1.0" />
<line x1="461.00" y1="639.40" x2="461.00" y2="706.20" stroke="#c4c4c4" stroke-width="1.0" />
<line x1="461.00" y1="639.40" x2="464.80" y2="639.40" stroke="#8a8a8a" stroke-width="1.0" />
<line x1="464.80" y1="623.90" x2="464.80" y2="654.40" stroke="#c4c4c4" stroke-width="1.0" />
<line x1="464.80" y1="623.90" x2="478.70" y2="623.90" stroke="#8a8a8a" stroke-width="1.0" />
<line x1="464.80" y1="654.40" x2="473.00" y2="654.40" stroke="#8a8a8a" stroke-width="1.0" />
<line x1="473.10" y1="647.60" x2="473.10" y2="667.60" stroke="#d8d8d8" stroke-width="1.0" />
<line x1="473.10" y1="667.60" x2="475.10" y2="667.60" stroke="#d8d8d8" stroke-width="1.0" />
<line x1="475.10" y1="667.60" x2="475.10" y2="675.70" stroke="#d8d8d8" stroke-width="1.0" />
<line x1="461.00" y1="706.20" x2="463.90" y2="706.20" stroke="#8a8a8a" stroke-width="1.0" />
<line x1="463.90" y1="692.60" x2="463.90" y2="718.50" stroke="#c4c4c4" stroke-width="1.0" />
<line x1="463.90" y1="692.60" x2="468.10" y2="692.60" stroke="#8a8a8a" stroke-width="1.0" />
<line x1="463.90" y1="718.50" x2="466.00" y2="718.50" stroke="#8a8a8a" stroke-width="1.0" />
<line x1="466.00" y1="710.30" x2="466.00" y2="727.60" stroke="#c4c4c4" stroke-width="1.0" />
<line x1="466.00" y1="710.30" x2="467.10" y2="710.30" stroke="#d8d8d8" stroke-width="1.0" />
<line x1="466.00" y1="727.60" x2="469.80" y2="727.60" stroke="#8a8a8a" stroke-width="1.0" />
<text x="458.90" y="522.75" font-size="6.5" fill="#262626" font-weight="normal" text-anchor="start" >SHC014</text>
<text x="480.20" y="539.85" font-size="6.5" fill="#262626" font-weight="normal" text-anchor="start" >SARS-1</text>
<text x="469.80" y="557.25" font-size="6.5" fill="#262626" font-weight="normal" text-anchor="start" >WIV1</text>
<text x="454.20" y="572.15" font-size="6.5" fill="#262626" font-weight="normal" text-anchor="start" >Pangolin_GX P2V</text>
<rect x="454.40" y="584.60" width="15.45" height="7.00" fill="#ff0000" />
<text x="455.20" y="590.45" font-size="6.5" fill="#111" font-weight="normal" text-anchor="start" >WA1</text>
<rect x="454.40" y="602.40" width="29.43" height="7.00" fill="#ff0000" />
<text x="455.20" y="608.25" font-size="6.5" fill="#111" font-weight="normal" text-anchor="start" >B.1.617.2</text>
<text x="488.90" y="626.25" font-size="6.5" fill="#262626" font-weight="normal" text-anchor="start" >BA.2.86</text>
<rect x="475.20" y="636.10" width="25.45" height="7.00" fill="#ffc000" />
<text x="476.00" y="641.95" font-size="6.5" fill="#111" font-weight="normal" text-anchor="start" >XBB.1.5</text>
<rect x="477.20" y="654.10" width="21.83" height="7.00" fill="#ffc000" />
<text x="478.00" y="659.95" font-size="6.5" fill="#111" font-weight="normal" text-anchor="start" >EG.5.1</text>
<rect x="478.50" y="671.50" width="25.45" height="7.00" fill="#ffc000" />
<text x="479.30" y="677.35" font-size="6.5" fill="#111" font-weight="normal" text-anchor="start" >FL.1.5.1</text>
<rect x="471.20" y="688.30" width="15.69" height="7.00" fill="#ff0000" />
<text x="472.00" y="694.15" font-size="6.5" fill="#111" font-weight="normal" text-anchor="start" >BA.2</text>
<rect x="469.70" y="705.40" width="15.69" height="7.00" fill="#ff0000" />
<text x="470.50" y="711.25" font-size="6.5" fill="#111" font-weight="normal" text-anchor="start" >BA.5</text>
<rect x="473.70" y="723.30" width="21.83" height="7.00" fill="#ff0000" />
<text x="474.50" y="729.15" font-size="6.5" fill="#111" font-weight="normal" text-anchor="start" >BQ.1.1</text>
<path d="M149.50,586.20 L157.00,579.20 L157.00,582.90 L173.40,582.90 L173.40,589.50 L157.00,589.50 L157.00,593.20 Z" fill="#000" stroke="#15508f" stroke-width="1.4" stroke-linejoin="round"/>
<path d="M331.00,706.90 L338.50,699.90 L338.50,703.60 L354.60,703.60 L354.60,710.20 L338.50,710.20 L338.50,713.90 Z" fill="#000" stroke="#15508f" stroke-width="1.4" stroke-linejoin="round"/>
<path d="M502.70,588.70 L510.40,581.70 L510.40,585.30 L527.00,585.30 L527.00,592.10 L510.40,592.10 L510.40,595.70 Z" fill="#000" stroke="#15508f" stroke-width="1.4" stroke-linejoin="round"/>
<path d="M505.10,707.30 L511.80,700.40 L511.80,704.00 L528.40,704.00 L528.40,710.60 L511.80,710.60 L511.80,714.20 Z" fill="#000" stroke="#15508f" stroke-width="1.4" stroke-linejoin="round"/>
<rect x="15.50" y="701.30" width="20.00" height="13.20" fill="#ffc000" rx="2"/>
<rect x="16.00" y="729.60" width="18.20" height="12.20" fill="#f00000" rx="1.5"/>
<text x="41.00" y="710.70" font-size="9.15" fill="#333" font-weight="normal" text-anchor="start" >ID50&gt;100</text>
<text x="41.00" y="739.00" font-size="9.27" fill="#333" font-weight="normal" text-anchor="start" >ID50&gt;1000</text>
</svg>
</body></html>
